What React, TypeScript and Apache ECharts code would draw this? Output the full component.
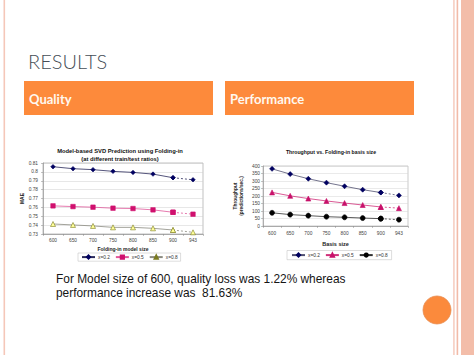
import React, { useEffect, useRef } from "react";
import * as echarts from "echarts";

const categories = ["600", "650", "700", "750", "800", "850", "900", "943"];
const legendNames = ["x=0.2", "x=0.5", "x=0.8"];
const maeX02 = [0.8058, 0.8036, 0.8025, 0.8006, 0.7994, 0.7975, 0.7934, 0.7911];
const maeX05 = [0.7617, 0.7609, 0.7602, 0.7591, 0.7587, 0.7572, 0.7545, 0.7523];
const maeX08 = [0.7413, 0.7402, 0.7391, 0.7375, 0.7375, 0.7364, 0.7345, 0.7319];
const thrX02 = [381, 346, 315, 289, 265, 242, 223, 204];
const thrX05 = [224, 201, 183, 167, 153, 140, 127, 119];
const thrX08 = [88, 76, 69, 62, 58, 53, 49, 42];

const solid = (v: number[]) => v.map((x, i) => (i < v.length - 1 ? x : null));
const dashed = (v: number[]) => v.map((x, i) => (i >= v.length - 2 ? x : null));

type Sty = { line: string; fill: string; stroke: string; symbol: string; size: number };

function pair(prefix: string, name: string, values: number[], idx: number, s: Sty) {
  const common = {
    type: "line",
    xAxisIndex: idx,
    yAxisIndex: idx,
    symbol: s.symbol,
    symbolSize: s.size,
    itemStyle: { color: s.fill, borderColor: s.stroke, borderWidth: 0.6 },
    emphasis: { disabled: true },
  };
  return [
    { ...common, name: prefix + name, data: solid(values), lineStyle: { color: s.line, width: 0.8 } },
    { ...common, name: prefix + name + " ext", data: dashed(values), lineStyle: { color: s.line, width: 0.8, type: [2, 2] } },
  ];
}

const FONT = "Liberation Sans";

export default function App() {
  const ref = useRef<HTMLDivElement>(null);
  useEffect(() => {
    if (!ref.current) return;
    const chart = echarts.init(ref.current, undefined, { renderer: "svg" });
    const qS: Sty[] = [
      { line: "#2a2a5a", fill: "#000060", stroke: "#000060", symbol: "diamond", size: 4.5 },
      { line: "#e0589a", fill: "#d0106e", stroke: "#d0106e", symbol: "rect", size: 4.5 },
      { line: "#8a8a80", fill: "#ffff99", stroke: "#7a7a20", symbol: "triangle", size: 5 },
    ];
    const pS: Sty[] = [
      { line: "#505070", fill: "#000060", stroke: "#000060", symbol: "diamond", size: 5 },
      { line: "#d0307a", fill: "#c8106a", stroke: "#c8106a", symbol: "triangle", size: 5 },
      { line: "#303030", fill: "#000000", stroke: "#000000", symbol: "circle", size: 5 },
    ];
    const qVals = [maeX02, maeX05, maeX08];
    const pVals = [thrX02, thrX05, thrX08];
    const series: any[] = [];
    legendNames.forEach((n, i) => series.push(...pair("q:", n, qVals[i], 0, qS[i])));
    legendNames.forEach((n, i) => series.push(...pair("p:", n, pVals[i], 1, pS[i])));

    const axisLbl = { fontSize: 4.8, color: "#444", fontFamily: FONT };
    const baseX = (idx: number, name: string, gap: number, margin: number) => ({
      type: "category",
      gridIndex: idx,
      data: categories,
      boundaryGap: true,
      name,
      nameLocation: "middle",
      nameGap: gap,
      nameTextStyle: { fontSize: 5, fontWeight: "bold", color: "#222", fontFamily: FONT },
      axisLine: { lineStyle: { color: "#888", width: 0.6 } },
      axisTick: { show: true, length: 2, lineStyle: { color: "#888", width: 0.5 } },
      axisLabel: { ...axisLbl, margin },
      splitLine: { show: false },
    });
    const legendBase = {
      formatter: (n: string) => n.slice(2),
      itemWidth: 13,
      itemHeight: 4,
      itemGap: 5,
      padding: [1.5, 3],
      borderColor: "#bbb",
      borderWidth: 0.5,
      selectedMode: false,
      textStyle: { fontSize: 4.8, color: "#333", fontFamily: FONT, padding: [0, 0, 0, -2] },
    };

    chart.setOption({
      animation: false,
      backgroundColor: "#ffffff",
      grid: [
        { left: 43, top: 163, width: 160, height: 71, show: true, borderColor: "#999", borderWidth: 0.6 },
        { left: 263, top: 166, width: 145, height: 60, show: true, borderColor: "#aaa", borderWidth: 0.6 },
      ],
      xAxis: [baseX(0, "Folding-in model size", 12, 4), { ...baseX(1, "Basis size", 15, 4.5), nameTextStyle: { fontSize: 5.5, fontWeight: "bold", color: "#222", fontFamily: FONT } }],
      yAxis: [
        {
          type: "value",
          gridIndex: 0,
          min: 0.73,
          max: 0.81,
          interval: 0.01,
          name: "MAE",
          nameLocation: "middle",
          nameGap: 18,
          nameRotate: 90,
          nameTextStyle: { fontSize: 5, fontWeight: "bold", color: "#222", fontFamily: FONT },
          axisLine: { show: true, lineStyle: { color: "#888", width: 0.6 } },
          axisTick: { show: true, length: 2, lineStyle: { color: "#888", width: 0.5 } },
          axisLabel: { ...axisLbl, margin: 5, formatter: (v: number) => String(Number(v.toFixed(2))) },
          splitLine: { lineStyle: { color: "#cfcfcf", width: 0.5 } },
        },
        {
          type: "value",
          gridIndex: 1,
          min: 0,
          max: 400,
          interval: 50,
          name: "Throughput\n(predictions/sec.)",
          nameLocation: "middle",
          nameGap: 19,
          nameRotate: 90,
          nameTextStyle: { fontSize: 4.8, fontWeight: "bold", color: "#222", fontFamily: FONT, lineHeight: 5.5 },
          axisLine: { show: true, lineStyle: { color: "#888", width: 0.6 } },
          axisTick: { show: true, length: 2, lineStyle: { color: "#888", width: 0.5 } },
          axisLabel: { ...axisLbl, margin: 3 },
          splitLine: { lineStyle: { color: "#d4d4d4", width: 0.5 } },
        },
      ],
      legend: [
        { ...legendBase, data: legendNames.map((n) => "q:" + n), left: 78, top: 253 },
        { ...legendBase, data: legendNames.map((n) => "p:" + n), left: 287, top: 250.5, padding: [2, 4] },
      ],
      series,
      graphic: [
        { type: "rect", shape: { x: 3.5, y: 0, width: 1.6, height: 355 }, style: { fill: "#f5c7b9" }, silent: true },
        { type: "rect", shape: { x: 453, y: 0, width: 1.8, height: 355 }, style: { fill: "#f7d3c8" }, silent: true },
        { type: "rect", shape: { x: 456.6, y: 0, width: 1.6, height: 355 }, style: { fill: "#f2bba8" }, silent: true },
        { type: "rect", shape: { x: 461, y: 0, width: 13, height: 355 }, style: { fill: "#f3bda9" }, silent: true },
        { type: "text", style: { text: "RESULTS", x: 28, y: 61, verticalAlign: "middle", fontSize: 20, fontWeight: 300, fontFamily: "Lato", fill: "#454d56" } },
        { type: "rect", shape: { x: 24, y: 81, width: 189, height: 34 }, style: { fill: "#fd8a3b" } },
        { type: "rect", shape: { x: 225, y: 81, width: 189, height: 34 }, style: { fill: "#fd8a3b" } },
        { type: "text", style: { text: "Quality", x: 29, y: 99, verticalAlign: "middle", fontSize: 13, fontWeight: "bold", fontFamily: "Lato", fill: "#fff8ef" } },
        { type: "text", style: { text: "Performance", x: 230, y: 99, verticalAlign: "middle", fontSize: 13, fontWeight: "bold", fontFamily: "Lato", fill: "#fff8ef" } },
        { type: "text", style: { text: "Model-based SVD Prediction using Folding-in", x: 120, y: 150.5, align: "center", verticalAlign: "middle", fontSize: 5.8, fontWeight: "bold", fontFamily: FONT, fill: "#111" } },
        { type: "text", style: { text: "(at different train/test ratios)", x: 120, y: 158.5, align: "center", verticalAlign: "middle", fontSize: 5.8, fontWeight: "bold", fontFamily: FONT, fill: "#111" } },
        { type: "text", style: { text: "Throughput vs. Folding-in basis size", x: 331, y: 152, align: "center", verticalAlign: "middle", fontSize: 5.2, fontWeight: "bold", fontFamily: FONT, fill: "#111" } },
        { type: "text", style: { text: "For Model size of 600, quality loss was 1.22% whereas", x: 56, y: 279, verticalAlign: "middle", fontSize: 11.9, fontFamily: FONT, fill: "#151515" } },
        { type: "text", style: { text: "performance increase was  81.63%", x: 56, y: 292.5, verticalAlign: "middle", fontSize: 11.9, fontFamily: FONT, fill: "#151515" } },
        { type: "circle", shape: { cx: 437, cy: 310, r: 14 }, style: { fill: "#fb8a3c", stroke: "#e88a4c", lineWidth: 0.8 } },
      ],
    });
    return () => chart.dispose();
  }, []);
  return <div ref={ref} style={{ position: "absolute", left: 0, top: 0, width: 474, height: 355, background: "#fff" }} />;
}
